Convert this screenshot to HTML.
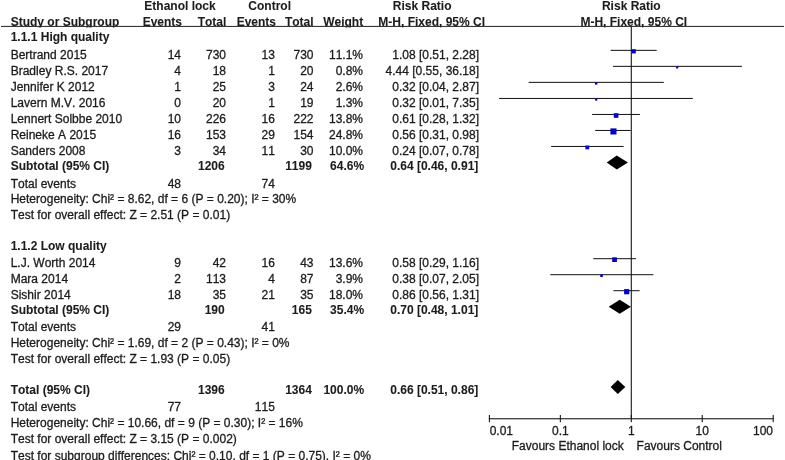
<!DOCTYPE html>
<html lang="en"><head><meta charset="utf-8"><title>Forest plot</title>
<style>
html,body{margin:0;padding:0;background:#fff;}
body{width:785px;height:460px;overflow:hidden;position:relative;}
svg{position:absolute;left:0;top:0;display:block;}
text{font-family:'Liberation Sans', Arial, Helvetica, sans-serif;font-size:12px;fill:#1c1c1c;white-space:pre;font-kerning:none;stroke:#1c1c1c;stroke-width:0.3px;}
.b{font-weight:bold;stroke-width:0.08px;}
.r{text-anchor:end;}
.m{text-anchor:middle;}
</style></head><body>
<svg width="785" height="460" viewBox="0 0 785 460">
<rect x="0" y="0" width="785" height="460" fill="#ffffff"/>
<clipPath id="hc"><rect x="0" y="0" width="785" height="27.4"/></clipPath>
<g clip-path="url(#hc)">
<text x="180" y="9.8" class="b m">Ethanol lock</text>
<text x="269.7" y="9.8" class="b m">Control</text>
<text x="422.2" y="9.8" class="b m">Risk Ratio</text>
<text x="631.3" y="9.8" class="b m">Risk Ratio</text>
<text x="10.7" y="26.2" class="b">Study or Subgroup</text>
<text x="182" y="26.2" class="b r">Events</text>
<text x="226.3" y="26.2" class="b r">Total</text>
<text x="276" y="26.2" class="b r">Events</text>
<text x="313.6" y="26.2" class="b r">Total</text>
<text x="363.2" y="26.2" class="b r">Weight</text>
<text x="431.7" y="26.2" class="b m">M-H, Fixed, 95% CI</text>
<text x="633.8" y="26.2" class="b m">M-H, Fixed, 95% CI</text>
</g>
<rect x="1" y="25.9" width="783" height="1" fill="#222"/>
<text x="10.7" y="41.2" class="b">1.1.1 High quality</text>
<text x="10.7" y="58.9">Bertrand 2015</text>
<text x="181" y="58.9" class="r">14</text>
<text x="226" y="58.9" class="r">730</text>
<text x="274.9" y="58.9" class="r">13</text>
<text x="313.5" y="58.9" class="r">730</text>
<text x="363" y="58.9" class="r">11.1%</text>
<text x="479" y="58.9" class="r">1.08 [0.51, 2.28]</text>
<text x="10.7" y="74.9">Bradley R.S. 2017</text>
<text x="181" y="74.9" class="r">4</text>
<text x="226" y="74.9" class="r">18</text>
<text x="274.9" y="74.9" class="r">1</text>
<text x="313.5" y="74.9" class="r">20</text>
<text x="363" y="74.9" class="r">0.8%</text>
<text x="479" y="74.9" class="r">4.44 [0.55, 36.18]</text>
<text x="10.7" y="90.9">Jennifer K 2012</text>
<text x="181" y="90.9" class="r">1</text>
<text x="226" y="90.9" class="r">25</text>
<text x="274.9" y="90.9" class="r">3</text>
<text x="313.5" y="90.9" class="r">24</text>
<text x="363" y="90.9" class="r">2.6%</text>
<text x="479" y="90.9" class="r">0.32 [0.04, 2.87]</text>
<text x="10.7" y="107">Lavern M.V. 2016</text>
<text x="181" y="107" class="r">0</text>
<text x="226" y="107" class="r">20</text>
<text x="274.9" y="107" class="r">1</text>
<text x="313.5" y="107" class="r">19</text>
<text x="363" y="107" class="r">1.3%</text>
<text x="479" y="107" class="r">0.32 [0.01, 7.35]</text>
<text x="10.7" y="123">Lennert Solbbe 2010</text>
<text x="181" y="123" class="r">10</text>
<text x="226" y="123" class="r">226</text>
<text x="274.9" y="123" class="r">16</text>
<text x="313.5" y="123" class="r">222</text>
<text x="363" y="123" class="r">13.8%</text>
<text x="479" y="123" class="r">0.61 [0.28, 1.32]</text>
<text x="10.7" y="139">Reineke A 2015</text>
<text x="181" y="139" class="r">16</text>
<text x="226" y="139" class="r">153</text>
<text x="274.9" y="139" class="r">29</text>
<text x="313.5" y="139" class="r">154</text>
<text x="363" y="139" class="r">24.8%</text>
<text x="479" y="139" class="r">0.56 [0.31, 0.98]</text>
<text x="10.7" y="155">Sanders 2008</text>
<text x="181" y="155" class="r">3</text>
<text x="226" y="155" class="r">34</text>
<text x="274.9" y="155" class="r">11</text>
<text x="313.5" y="155" class="r">30</text>
<text x="363" y="155" class="r">10.0%</text>
<text x="479" y="155" class="r">0.24 [0.07, 0.78]</text>
<text x="10.7" y="170.0" class="b">Subtotal (95% CI)</text>
<text x="224.7" y="170.0" class="b r">1206</text>
<text x="311.9" y="170.0" class="b r">1199</text>
<text x="364.1" y="170.0" class="b r">64.6%</text>
<text x="478.3" y="170.0" class="b r">0.64 [0.46, 0.91]</text>
<text x="10.7" y="187.5">Total events</text>
<text x="181" y="187.5" class="r">48</text>
<text x="274.9" y="187.5" class="r">74</text>
<text x="10.7" y="203">Heterogeneity: Chi² = 8.62, df = 6 (P = 0.20); I² = 30%</text>
<text x="10.7" y="219">Test for overall effect: Z = 2.51 (P = 0.01)</text>
<text x="10.7" y="249.7" class="b">1.1.2 Low quality</text>
<text x="10.7" y="267">L.J. Worth 2014</text>
<text x="181" y="267" class="r">9</text>
<text x="226" y="267" class="r">42</text>
<text x="274.9" y="267" class="r">16</text>
<text x="313.5" y="267" class="r">43</text>
<text x="363" y="267" class="r">13.6%</text>
<text x="479" y="267" class="r">0.58 [0.29, 1.16]</text>
<text x="10.7" y="283">Mara 2014</text>
<text x="181" y="283" class="r">2</text>
<text x="226" y="283" class="r">113</text>
<text x="274.9" y="283" class="r">4</text>
<text x="313.5" y="283" class="r">87</text>
<text x="363" y="283" class="r">3.9%</text>
<text x="479" y="283" class="r">0.38 [0.07, 2.05]</text>
<text x="10.7" y="299">Sishir 2014</text>
<text x="181" y="299" class="r">18</text>
<text x="226" y="299" class="r">35</text>
<text x="274.9" y="299" class="r">21</text>
<text x="313.5" y="299" class="r">35</text>
<text x="363" y="299" class="r">18.0%</text>
<text x="479" y="299" class="r">0.86 [0.56, 1.31]</text>
<text x="10.7" y="313.5" class="b">Subtotal (95% CI)</text>
<text x="224.7" y="313.5" class="b r">190</text>
<text x="311.9" y="313.5" class="b r">165</text>
<text x="364.1" y="313.5" class="b r">35.4%</text>
<text x="478.3" y="313.5" class="b r">0.70 [0.48, 1.01]</text>
<text x="10.7" y="331">Total events</text>
<text x="181" y="331" class="r">29</text>
<text x="274.9" y="331" class="r">41</text>
<text x="10.7" y="347">Heterogeneity: Chi² = 1.69, df = 2 (P = 0.43); I² = 0%</text>
<text x="10.7" y="363">Test for overall effect: Z = 1.93 (P = 0.05)</text>
<text x="10.7" y="393.7" class="b">Total (95% CI)</text>
<text x="224.7" y="393.7" class="b r">1396</text>
<text x="311.9" y="393.7" class="b r">1364</text>
<text x="364.1" y="393.7" class="b r">100.0%</text>
<text x="478.3" y="393.7" class="b r">0.66 [0.51, 0.86]</text>
<text x="10.7" y="411.3">Total events</text>
<text x="181" y="411.3" class="r">77</text>
<text x="274.9" y="411.3" class="r">115</text>
<text x="10.7" y="427">Heterogeneity: Chi² = 10.66, df = 9 (P = 0.30); I² = 16%</text>
<text x="10.7" y="443">Test for overall effect: Z = 3.15 (P = 0.002)</text>
<text x="10.7" y="460">Test for subgroup differences: Chi² = 0.10, df = 1 (P = 0.75), I² = 0%</text>
<rect x="630.75" y="26" width="1.1" height="393" fill="#1a1a1a"/>
<rect x="488.9" y="418.2" width="284.8" height="1.1" fill="#1a1a1a"/>
<rect x="488.85" y="415" width="1.1" height="7.2" fill="#1a1a1a"/>
<rect x="559.80" y="415" width="1.1" height="7.2" fill="#1a1a1a"/>
<rect x="630.75" y="415" width="1.1" height="7.2" fill="#1a1a1a"/>
<rect x="701.70" y="415" width="1.1" height="7.2" fill="#1a1a1a"/>
<rect x="772.65" y="415" width="1.1" height="7.2" fill="#1a1a1a"/>
<rect x="610.6" y="49.85" width="46.1" height="1" fill="#111"/>
<rect x="631.6" y="49.2" width="4.2" height="4.2" fill="#0000cc"/>
<rect x="612.9" y="65.85" width="129.0" height="1" fill="#111"/>
<rect x="676.1" y="66.3" width="2.2" height="2.2" fill="#0000cc"/>
<rect x="528.6" y="81.85" width="135.2" height="1" fill="#111"/>
<rect x="595.0" y="82.2" width="2.4" height="2.4" fill="#0000cc"/>
<rect x="499.1" y="97.95" width="193.7" height="1" fill="#111"/>
<rect x="595.1" y="98.4" width="2.2" height="2.2" fill="#0000cc"/>
<rect x="592.1" y="113.95" width="47.8" height="1" fill="#111"/>
<rect x="613.8" y="113.2" width="4.6" height="4.6" fill="#0000cc"/>
<rect x="595.2" y="129.95" width="35.5" height="1" fill="#111"/>
<rect x="610.4" y="128.4" width="6.1" height="6.1" fill="#0000cc"/>
<rect x="551.1" y="145.95" width="72.5" height="1" fill="#111"/>
<rect x="585.4" y="145.5" width="3.8" height="3.8" fill="#0000cc"/>
<polygon points="606.7,162.5 616.8,155.5 627.9,162.5 616.8,169.5" fill="#000"/>
<rect x="593.2" y="258.20" width="42.7" height="1" fill="#111"/>
<rect x="612.2" y="257.3" width="4.7" height="4.7" fill="#0000cc"/>
<rect x="550.3" y="274.20" width="103.1" height="1" fill="#111"/>
<rect x="600.2" y="274.4" width="2.6" height="2.6" fill="#0000cc"/>
<rect x="613.4" y="290.20" width="26.2" height="1" fill="#111"/>
<rect x="624.1" y="289.1" width="5.2" height="5.2" fill="#0000cc"/>
<polygon points="608.7,306.8 619.7,299.8 630.9,306.8 619.7,313.8" fill="#000"/>
<polygon points="610.6,387 617.8,380.0 625.3,387 617.8,394.0" fill="#000"/>
<text x="489.7" y="435.2">0.01</text>
<text x="560.3" y="435.2" class="m">0.1</text>
<text x="631.3" y="435.2" class="m">1</text>
<text x="702.2" y="435.2" class="m">10</text>
<text x="773.0" y="435.2" class="r">100</text>
<text x="623.8" y="449.6" class="r">Favours Ethanol lock</text>
<text x="636.6" y="449.6">Favours Control</text>
</svg></body></html>
